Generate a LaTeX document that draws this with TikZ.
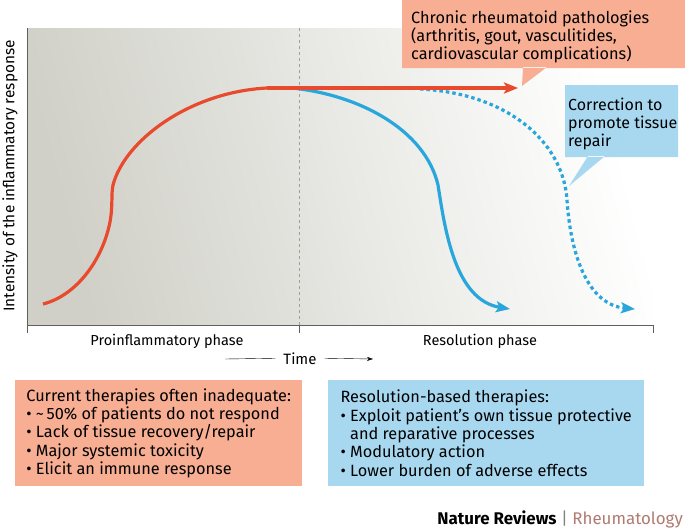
\documentclass[tikz,border=0pt]{standalone}
\usepackage{fontspec}
\setmainfont{Fira Sans}
\usetikzlibrary{arrows.meta,calc,positioning}
\definecolor{inflred}{RGB}{232,74,46}
\definecolor{resblue}{RGB}{41,166,219}
\definecolor{boxsalmon}{RGB}{247,174,147}
\definecolor{boxsky}{RGB}{168,216,240}
\definecolor{plotgray}{RGB}{208,208,200}
\definecolor{axisgray}{RGB}{95,95,95}
\definecolor{journal}{RGB}{176,122,114}

\begin{document}
\begin{tikzpicture}[x=1pt,y=-1pt,
      every node/.style={inner sep=0pt,font=\fontsize{14.5}{16}\selectfont},
      >={Stealth[length=14pt,width=11pt,inset=3pt]},
      curve/.style={line width=3.2pt},
      infobox/.style={anchor=north west,align=left,inner xsep=11pt,inner ysep=0pt,
         minimum height=106pt,font=\fontsize{16.3}{18.3}\selectfont},
      calltext/.style={anchor=north west,align=left,font=\fontsize{16.3}{18}\selectfont}]
      \useasboundingbox (0,0) rectangle (685,531);
      % plot area and axes
      \shade[left color=plotgray,right color=white,shading angle=105] (27,28) rectangle (653,325);
      \draw[axisgray!60,dashed,thin](299,28)--(299,325);
      \draw[axisgray,thin](27,28)--(27,333)(27,325)--(653,325)
         (299,325)--(299,333)(653,325)--(653,333);
      \node[rotate=90,font=\fontsize{15.4}{16}\selectfont] (intensity) at (10,176)
         {Intensity of the inflammatory response};
      % curves
      \coordinate (redstart) at (43,304);
      \coordinate (peak) at (267,88);
      \coordinate (redtip) at (518,88);
      \coordinate (bluestart) at (292,88);
      \coordinate (bluetip) at (510,309);
      \coordinate (dotstart) at (420,89);
      \coordinate (dottip) at (635,309);
      \draw[curve,resblue,->](bluestart)..controls(360,95)and(425,130)..(438,185)
         ..controls(445,230)and(455,300)..(bluetip);
      \draw[curve,resblue,->,dash pattern=on 3.5pt off 3pt](dotstart)
         ..controls(505,93)and(563,140)..(567,200)
         ..controls(571,260)and(590,305)..(dottip);
      \draw[curve,inflred](redstart)..controls(75,296)and(102,262)..(110,222)
         ..controls(113,205)and(111,195)..(113,185)
         ..controls(125,140)and(190,92)..(peak);
      \draw[curve,inflred,->](peak)--(redtip);
      % callouts
      \coordinate (chronictip) at (522,86);
      \fill[boxsalmon](402,0)rectangle(685,68)(523,67)--(547,67)--(chronictip)--cycle;
      \node[calltext] (chronic) at (411,10.6) {Chronic rheumatoid pathologies\\
         (arthritis, gout, vasculitides,\\cardiovascular complications)};
      \coordinate (repairtip) at (569,186);
      \fill[boxsky](565,85)rectangle(678,157)(588,156)--(605,156)--(repairtip)--cycle;
      \node[calltext,font=\fontsize{16}{18}\selectfont] (repair) at (568,98)
         {Correction to\\promote tissue\\repair};
      % phases and time
      \node[anchor=base] (proinfl) at (167,345) {Proinflammatory phase};
      \node[anchor=base] (resolution) at (480,345) {Resolution phase};
      \node[anchor=base,font=\fontsize{15}{16}\selectfont] (time) at (300,364) {Time};
      \coordinate (timestart) at (225,359);
      \coordinate (timeend) at (373,359);
      \draw[thin](timestart)--([xshift=-8pt]time.west);
      \draw[thin,-{Stealth[length=6pt,width=4pt]}]([xshift=8pt]time.east)--(timeend);
      % therapy boxes
      \node[infobox,fill=boxsalmon,minimum width=287pt]
         (current) at (15,380) {Current therapies often inadequate:\\
         • \textasciitilde\,50\% of patients do not respond\\
         • Lack of tissue recovery/repair\\
         • Major systemic toxicity\\
         • Elicit an immune response};
      \node[infobox,fill=boxsky,minimum width=316pt]
         (resbased) at (328,380) {Resolution-based therapies:\\
         • Exploit patient’s own tissue protective\\
         \phantom{• }and reparative processes\\
         • Modulatory action\\
         • Lower burden of adverse effects};
      \node[anchor=base east,font=\fontsize{16.9}{18}\selectfont] (nrr) at (683,524)
         {\textbf{Nature Reviews} \textcolor{gray}{|} \textcolor{journal}{Rheumatology}};
    \end{tikzpicture}
\end{document}
